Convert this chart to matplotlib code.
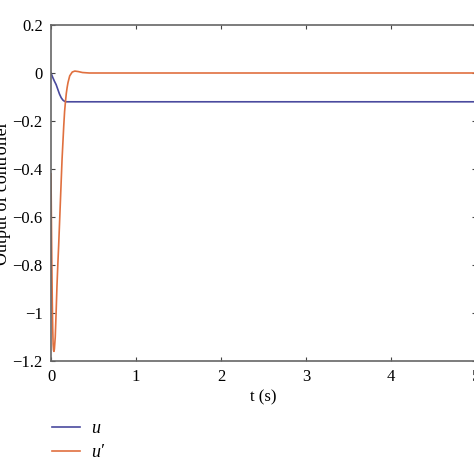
import numpy as np
import matplotlib
matplotlib.use("Agg")
import matplotlib.pyplot as plt
from matplotlib.ticker import FuncFormatter

plt.rcParams["font.family"] = ["Liberation Serif", "DejaVu Serif"]

# values
t_u = [0, 0.02, 0.04, 0.06, 0.08, 0.10, 0.12, 0.14, 0.16, 0.18, 0.22, 0.30, 5.0]
u = [0, -0.018, -0.034, -0.048, -0.068, -0.088, -0.103, -0.113, -0.118, -0.120, -0.120, -0.120, -0.120]

t_up = [0, 0.005, 0.01, 0.015, 0.02, 0.025, 0.03, 0.035, 0.04, 0.05, 0.06, 0.07,
        0.08, 0.09, 0.10, 0.11, 0.12, 0.13, 0.14, 0.15, 0.16, 0.17, 0.18, 0.19,
        0.20, 0.22, 0.25, 0.28, 0.32, 0.37, 0.45, 5.0]
u_prime = [-0.42, -0.62, -0.80, -0.95, -1.06, -1.13, -1.155, -1.16, -1.15, -1.10, -1.00, -0.89,
           -0.80, -0.72, -0.63, -0.54, -0.45, -0.36, -0.29, -0.22, -0.16, -0.12, -0.085, -0.06,
           -0.04, -0.012, 0.004, 0.008, 0.006, 0.002, 0.0, 0.0]

x_ticks = [0, 1, 2, 3, 4, 5]
y_ticks = [0.2, 0, -0.2, -0.4, -0.6, -0.8, -1, -1.2]

fig = plt.figure(figsize=(4.74, 4.74), dpi=100)
ax = fig.add_axes([51 / 474, 113 / 474, 425 / 474, 336 / 474])

l1, = ax.plot(t_u, u, color="#4a4a9e", lw=1.2, label="u")
l2, = ax.plot(t_up, u_prime, color="#e0703f", lw=1.2, label="u\u2032")

ax.set_xlim(0, 5)
ax.set_ylim(-1.2, 0.2)
ax.set_xticks(x_ticks)
ax.set_yticks(y_ticks)
ax.yaxis.set_major_formatter(FuncFormatter(lambda v, p: ("%g" % v).replace("-", "\u2212")))
ax.tick_params(direction="in", top=True, right=True, length=3, width=0.8,
               color="#444444", labelsize=12, pad=6)
for s in ax.spines.values():
    s.set_color("#666666")
    s.set_linewidth(1.2)

ax.set_xlabel("t (s)", fontsize=12, labelpad=3)
fig.text(2 / 474, 0.5 + (113 + 168 - 237) / 474, "Output of controller",
         rotation=90, ha="center", va="center", fontsize=13)

fig.legend(handles=[l1, l2], loc="upper left", bbox_to_anchor=(36 / 474, 1 - 404 / 474),
           frameon=False, prop={"size": 13, "style": "italic"}, handlelength=1.55,
           labelspacing=0.4, handletextpad=0.6)

fig.savefig("out.png", dpi=100)
